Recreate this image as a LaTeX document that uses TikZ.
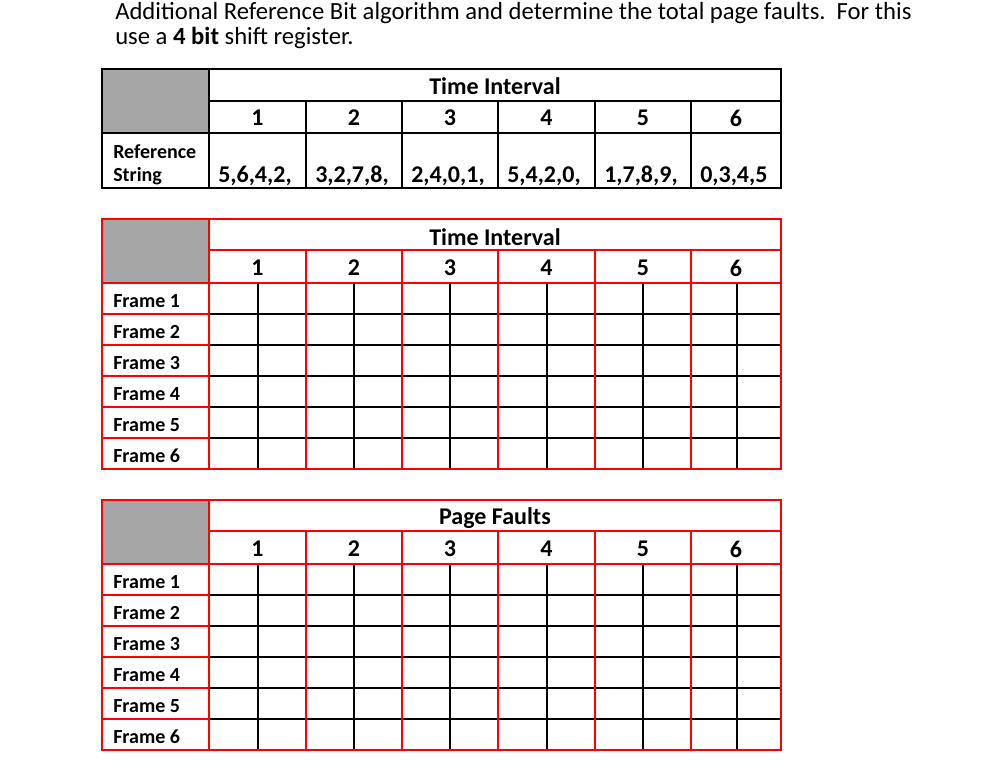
\documentclass[tikz,border=0pt]{standalone}
\usepackage{fontspec}
\setmainfont{Carlito}
\begin{document}
\begin{tikzpicture}[x=0.75pt,y=-0.75pt,
  hdr/.style={font=\bfseries\fontsize{18}{20}\selectfont,inner sep=0pt},
  val/.style={font=\bfseries\fontsize{18}{20}\selectfont,inner sep=0pt,anchor=base west},
  lbl/.style={font=\bfseries\fontsize{15}{17}\selectfont,inner sep=0pt,anchor=west},
  thin/.style={line width=1.5pt},
  thick/.style={line width=2.2pt}]
\useasboundingbox (0,0) rectangle (1001,771);
\node[anchor=base west,inner sep=0pt,font=\fontsize{18.5}{22}\selectfont] (t1) at (115,19) {Additional Reference Bit algorithm and determine the total page faults.\ \ For this};
\node[anchor=base west,inner sep=0pt,font=\fontsize{18.5}{22}\selectfont] (t2) at (115,45) {use a \textbf{4 bit} shift register.};
% ---------- table 1
\fill[gray!70] (102,69) rectangle (209,133);
\draw[thin] (209,101) -- (781,101);
\draw[thin] (102,133) -- (781,133);
\foreach \x in {306,402,498,595,691} \draw[thin] (\x,101) -- (\x,188);
\draw[thick] (102,69) rectangle (781,188);
\draw[thick] (209,69) -- (209,188);
\node[hdr] (ti1) at (495,86) {Time Interval};
\foreach \i/\a/\b/\s in {1/209/306/{5,6,4,2,},2/306/402/{3,2,7,8,},3/402/498/{2,4,0,1,},4/498/595/{5,4,2,0,},5/595/691/{1,7,8,9,},6/691/781/{0,3,4,5}}{
  \node[hdr] (h1\i) at ({(\a+\b)/2},118) {\i};
  \node[val] (r\i) at ({\a+9},182) {\s};
}
\node[lbl] (rs) at (113,152) {Reference};
\node[lbl] (rs2) at (113,176) {String};
% ---------- tables 2 and 3
\foreach \T/\yt/\title in {2/219/Time Interval,3/500/Page Faults}{
  \begin{scope}[yshift={-0.75*(\yt-219)}]
  \fill[gray!70] (102,219) rectangle (209,283);
  \foreach \k in {1,...,5} \draw[thin] (209,{283+31*\k}) -- (781,{283+31*\k});
  \foreach \x in {258,354,450,547,643,737} \draw[thin] (\x,283) -- (\x,469);
  \begin{scope}[red]
  \foreach \k in {1,...,5} \draw[thin] (102,{283+31*\k}) -- (209,{283+31*\k});
  \draw[thin] (209,250) -- (781,250);
  \draw[thin] (102,283) -- (781,283);
  \foreach \x in {306,402,498,595,691} \draw[thin] (\x,250) -- (\x,469);
  \draw[thick] (102,219) rectangle (781,469);
  \draw[thick] (209,219) -- (209,469);
  \end{scope}
  \node[hdr] (tt\T) at (495,237) {\title};
  \foreach \i/\a/\b in {1/209/306,2/306/402,3/402/498,4/498/595,5/595/691,6/691/781}
    \node[hdr] (h\T\i) at ({(\a+\b)/2},268) {\i};
  \foreach \k in {1,...,6}
    \node[lbl] (f\T\k) at (113,{283+31*\k-13}) {Frame \k};
  \end{scope}
}
\end{tikzpicture}
\end{document}
